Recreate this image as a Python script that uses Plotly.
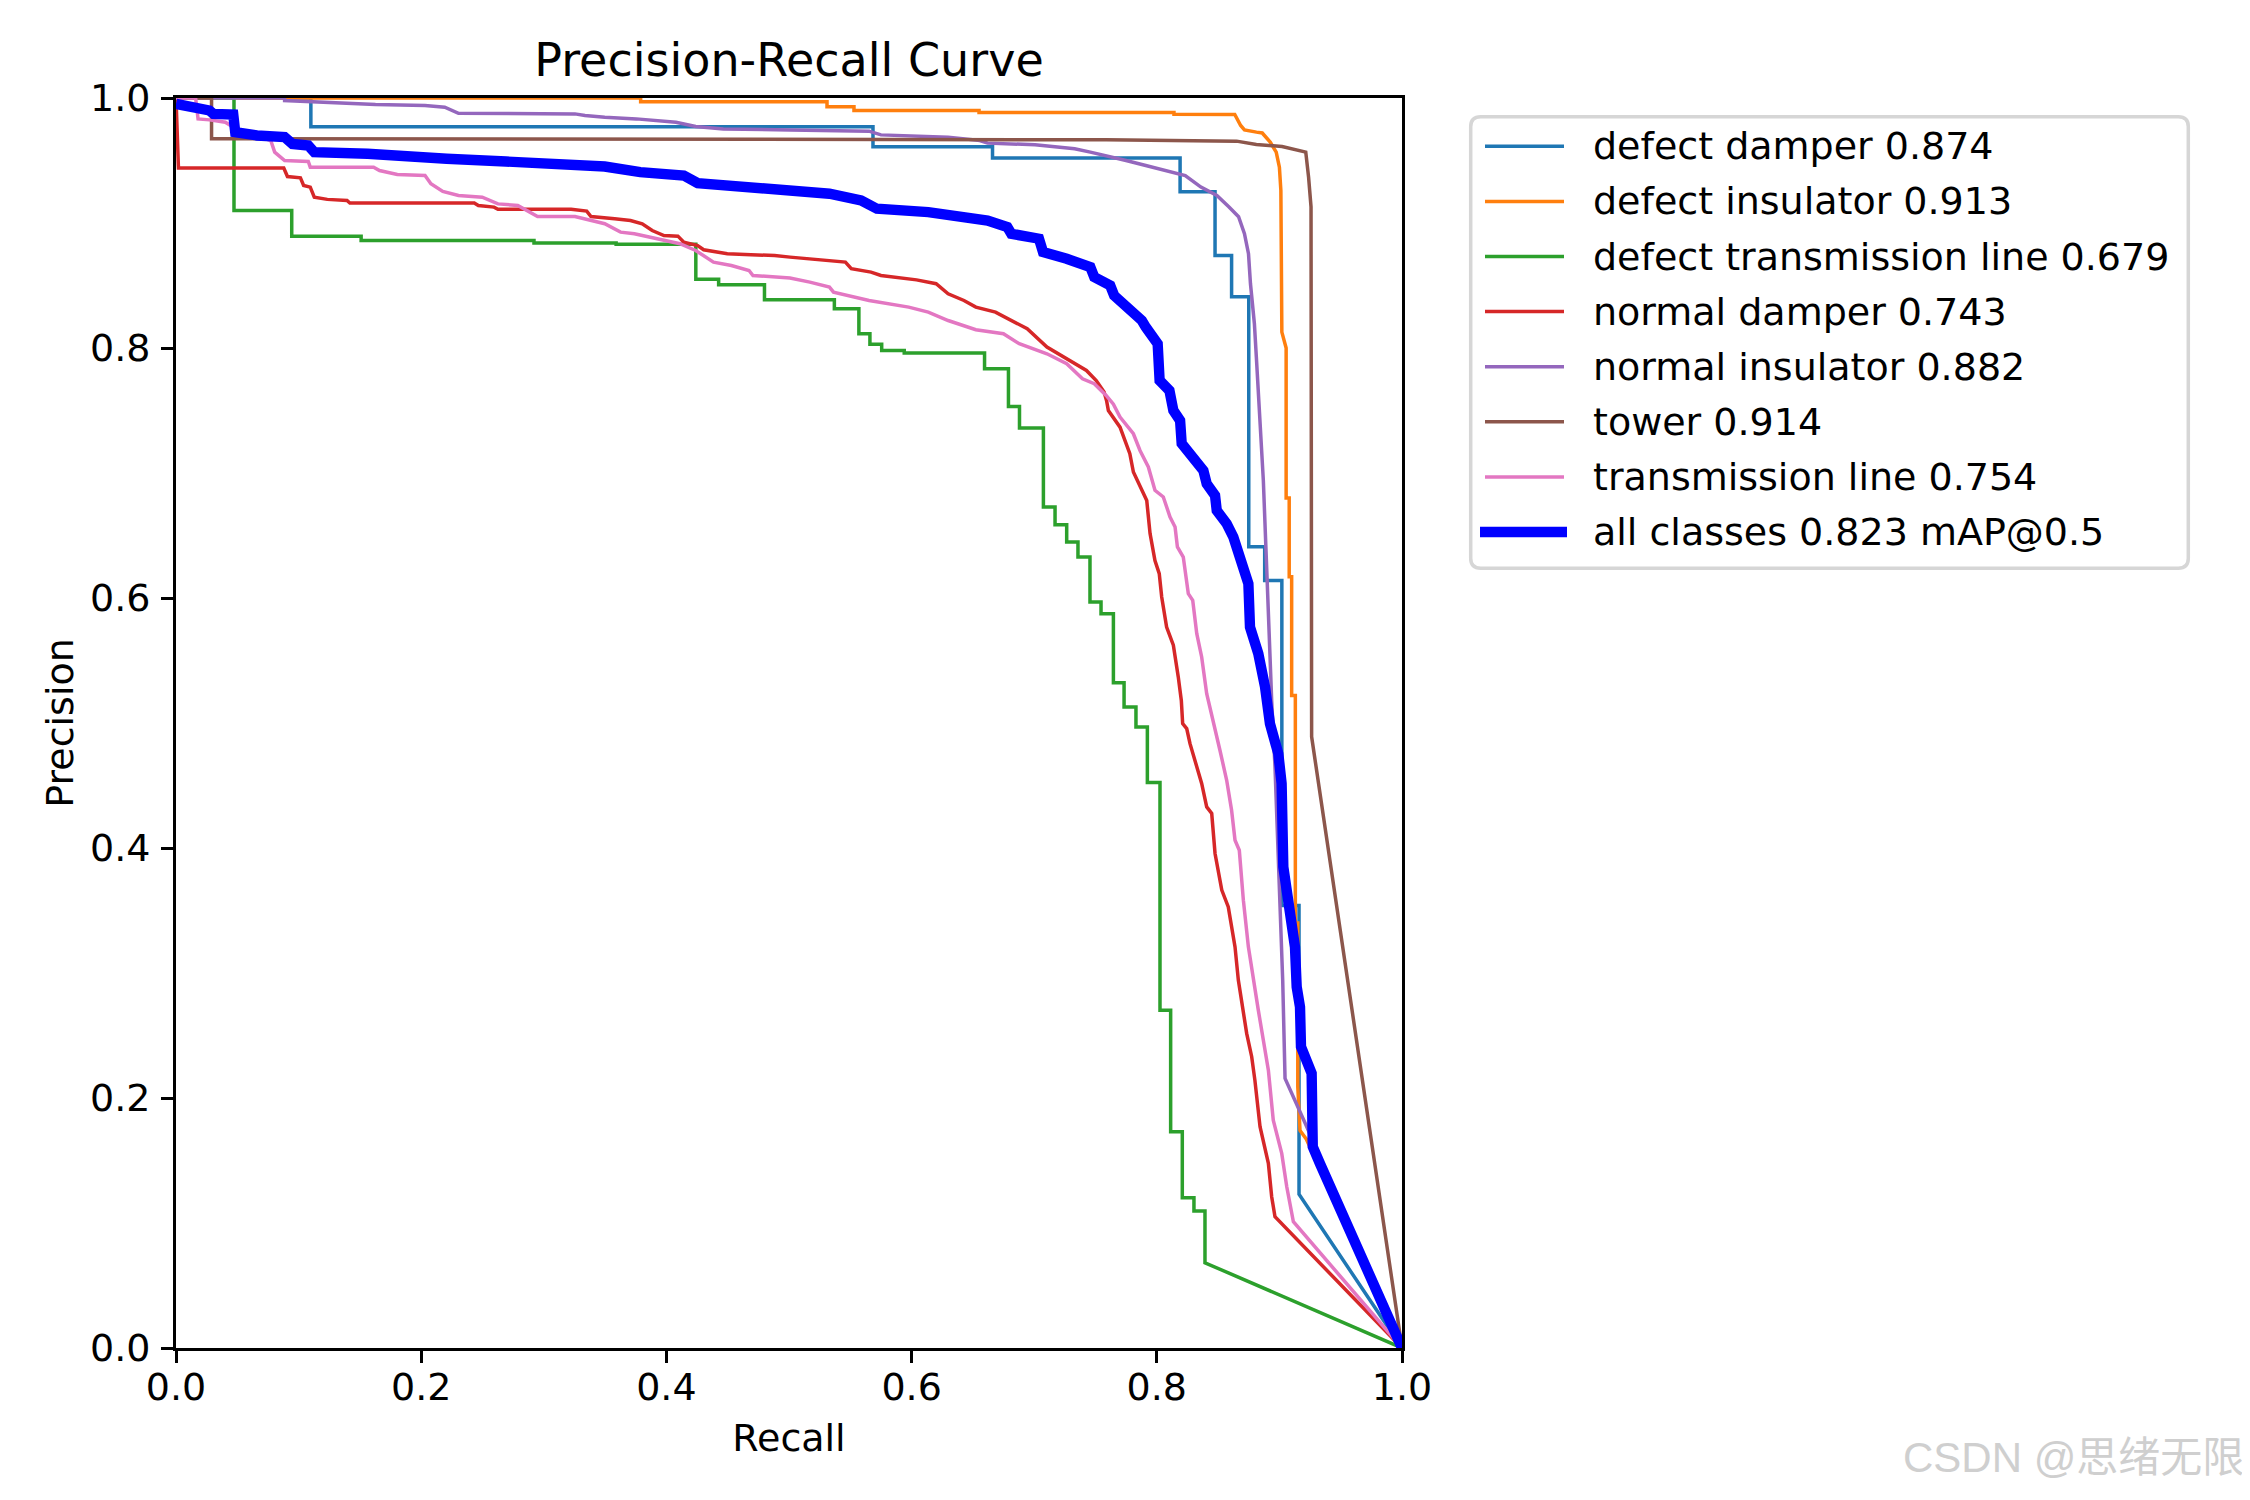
import plotly.graph_objects as go

# ---------------- data ----------------
TICK_VALUES = [0.0, 0.2, 0.4, 0.6, 0.8, 1.0]
TICK_LABELS = ["0.0", "0.2", "0.4", "0.6", "0.8", "1.0"]

CLASS_NAMES = ["defect damper", "defect insulator", "defect transmission line",
               "normal damper", "normal insulator", "tower", "transmission line"]
CLASS_AP = [0.874, 0.913, 0.679, 0.743, 0.882, 0.914, 0.754]
MAP50 = 0.823

DEFECT_DAMPER = [(0, 1.0), (0.110, 1.0), (0.110, 0.977), (0.5685, 0.977), (0.5685, 0.961),
                 (0.666, 0.961), (0.666, 0.952), (0.819, 0.952), (0.819, 0.925),
                 (0.8475, 0.925), (0.8475, 0.874), (0.861, 0.874), (0.861, 0.841),
                 (0.875, 0.841), (0.875, 0.641), (0.888, 0.641), (0.888, 0.614),
                 (0.902, 0.614), (0.902, 0.354), (0.916, 0.354), (0.916, 0.123), (1.0, 0.0)]

DEFECT_INSULATOR = [(0, 1.0), (0.379, 1.0), (0.379, 0.997), (0.531, 0.997), (0.531, 0.993),
                    (0.553, 0.993), (0.553, 0.990), (0.655, 0.990), (0.655, 0.9885),
                    (0.814, 0.9885), (0.814, 0.987), (0.8636, 0.9868), (0.8684, 0.978),
                    (0.8715, 0.9745), (0.8813, 0.9727), (0.886, 0.972), (0.8925, 0.9647),
                    (0.8974, 0.9567), (0.900, 0.9447), (0.9012, 0.926), (0.902, 0.8127),
                    (0.9055, 0.80), (0.9055, 0.68), (0.908, 0.68), (0.908, 0.617),
                    (0.910, 0.617), (0.910, 0.522), (0.913, 0.522), (0.913, 0.34),
                    (0.915, 0.34), (0.915, 0.209), (0.9168, 0.174), (0.922, 0.167), (1.0, 0.0)]

DEFECT_TRANSMISSION_LINE = [(0, 1.0), (0.0473, 1.0), (0.0473, 0.910), (0.0944, 0.910),
                            (0.0944, 0.8895), (0.151, 0.8895), (0.151, 0.886), (0.292, 0.886),
                            (0.292, 0.884), (0.359, 0.884), (0.359, 0.883), (0.424, 0.883),
                            (0.424, 0.855), (0.4426, 0.855), (0.4426, 0.8506), (0.480, 0.8506),
                            (0.480, 0.8386), (0.537, 0.8386), (0.537, 0.8314), (0.557, 0.8314),
                            (0.557, 0.8114), (0.566, 0.8114), (0.566, 0.803), (0.5756, 0.803),
                            (0.5756, 0.798), (0.594, 0.798), (0.594, 0.796), (0.6595, 0.796),
                            (0.6595, 0.7834), (0.679, 0.7834), (0.679, 0.7533), (0.688, 0.7533),
                            (0.688, 0.736), (0.7075, 0.736), (0.7075, 0.6728), (0.717, 0.6728),
                            (0.717, 0.6586), (0.7265, 0.6586), (0.7265, 0.6448), (0.7357, 0.6448),
                            (0.7357, 0.6328), (0.7455, 0.6328), (0.7455, 0.5968), (0.7545, 0.5968),
                            (0.7545, 0.5875), (0.7646, 0.5875), (0.7646, 0.5323), (0.7733, 0.5323),
                            (0.7733, 0.5128), (0.783, 0.5128), (0.783, 0.4969), (0.7923, 0.4969),
                            (0.7923, 0.4524), (0.8026, 0.4524), (0.8026, 0.2703), (0.8113, 0.2703),
                            (0.8113, 0.173), (0.8208, 0.173), (0.8208, 0.1202), (0.8303, 0.1202),
                            (0.8303, 0.1096), (0.8393, 0.1096), (0.8393, 0.0682), (1.0, 0.0)]

NORMAL_DAMPER = [(0, 1.0), (0.002, 0.944), (0.0879, 0.944), (0.0909, 0.9372), (0.1015, 0.9361),
                 (0.1041, 0.930), (0.1095, 0.9287), (0.1128, 0.9207), (0.1234, 0.9189),
                 (0.1395, 0.918), (0.1418, 0.916), (0.2433, 0.916), (0.2466, 0.914),
                 (0.2594, 0.9127), (0.2626, 0.911), (0.3223, 0.911), (0.335, 0.9095),
                 (0.3385, 0.9052), (0.3578, 0.9034), (0.3707, 0.902), (0.3803, 0.8994),
                 (0.3884, 0.894), (0.398, 0.890), (0.4094, 0.8895), (0.4142, 0.8847),
                 (0.4255, 0.882), (0.4304, 0.8786), (0.44, 0.8772), (0.4497, 0.8754),
                 (0.469, 0.8746), (0.4883, 0.874), (0.5008, 0.8727), (0.533, 0.870),
                 (0.546, 0.8687), (0.5508, 0.8634), (0.5669, 0.8607), (0.575, 0.858),
                 (0.604, 0.8545), (0.620, 0.8514), (0.6298, 0.8434), (0.6427, 0.838),
                 (0.6524, 0.8327), (0.6684, 0.8287), (0.6813, 0.822), (0.6943, 0.8154),
                 (0.7104, 0.8007), (0.7265, 0.7914), (0.7426, 0.782), (0.7506, 0.774),
                 (0.757, 0.7648), (0.759, 0.758), (0.7605, 0.750), (0.770, 0.7367),
                 (0.778, 0.7155), (0.7809, 0.7008), (0.7863, 0.6888), (0.7918, 0.678),
                 (0.7945, 0.6515), (0.7985, 0.630), (0.802, 0.6195), (0.804, 0.6008),
                 (0.808, 0.5768), (0.8135, 0.5622), (0.8175, 0.5369), (0.820, 0.518),
                 (0.8211, 0.4995), (0.8244, 0.4955), (0.8271, 0.4835), (0.8312, 0.4702),
                 (0.8366, 0.4516), (0.8407, 0.4329), (0.8448, 0.4276), (0.8475, 0.3956),
                 (0.8515, 0.3716), (0.853, 0.3663), (0.8583, 0.3529), (0.861, 0.3369),
                 (0.8638, 0.3209), (0.8665, 0.2943), (0.8706, 0.2703), (0.8733, 0.2517),
                 (0.8774, 0.2330), (0.880, 0.2143), (0.8842, 0.177), (0.8883, 0.161),
                 (0.891, 0.1477), (0.8937, 0.121), (0.8964, 0.105), (1.0, 0.0)]

NORMAL_INSULATOR = [(0, 1.0), (0.0886, 1.0), (0.0886, 0.998), (0.1434, 0.9958), (0.1627, 0.9948),
                    (0.2031, 0.994), (0.2192, 0.9926), (0.2304, 0.9878), (0.3254, 0.9873),
                    (0.3336, 0.986), (0.3497, 0.9846), (0.3755, 0.9833), (0.4078, 0.9806),
                    (0.4239, 0.9772), (0.4465, 0.9753), (0.5008, 0.9745), (0.5653, 0.9735),
                    (0.575, 0.9705), (0.6298, 0.9687), (0.6556, 0.966), (0.662, 0.9639),
                    (0.7007, 0.9626), (0.733, 0.9594), (0.7458, 0.9567), (0.7587, 0.954),
                    (0.7749, 0.950), (0.791, 0.946), (0.8071, 0.942), (0.8232, 0.938),
                    (0.836, 0.9287), (0.849, 0.922), (0.8587, 0.913), (0.8667, 0.905),
                    (0.8715, 0.8914), (0.8748, 0.8754), (0.8764, 0.8514), (0.8796, 0.8194),
                    (0.8812, 0.7927), (0.8829, 0.766), (0.8842, 0.7367), (0.8869, 0.694),
                    (0.8896, 0.6247), (0.8918, 0.566), (0.8937, 0.518), (0.8964, 0.4649),
                    (0.8991, 0.3982), (0.9005, 0.358), (0.9027, 0.294), (0.9046, 0.2157),
                    (0.9223, 0.177), (1.0, 0.0)]

TOWER = [(0, 1.0), (0.029, 1.0), (0.029, 0.9674), (0.7587, 0.9666), (0.8651, 0.9655),
         (0.8812, 0.9628), (0.9022, 0.9612), (0.9119, 0.9586), (0.9215, 0.9567),
         (0.9238, 0.9367), (0.9258, 0.913), (0.9263, 0.489), (1.0, 0.0)]

TRANSMISSION_LINE = [(0, 1.0), (0.016, 1.0), (0.018, 0.9833), (0.0273, 0.9825), (0.0402, 0.9806),
                     (0.0467, 0.9766), (0.06, 0.972), (0.0773, 0.966), (0.0805, 0.9567),
                     (0.0886, 0.950), (0.1079, 0.9492), (0.1095, 0.9447), (0.1612, 0.9447),
                     (0.166, 0.942), (0.1805, 0.9388), (0.2031, 0.938), (0.2079, 0.9314),
                     (0.2176, 0.9252), (0.2304, 0.922), (0.2498, 0.9207), (0.2626, 0.9153),
                     (0.2788, 0.914), (0.2949, 0.9052), (0.3254, 0.9052), (0.3497, 0.8994),
                     (0.3626, 0.8927), (0.3739, 0.8914), (0.3917, 0.8874), (0.411, 0.8834),
                     (0.4239, 0.878), (0.4384, 0.8687), (0.453, 0.866), (0.4674, 0.862),
                     (0.4706, 0.858), (0.5008, 0.856), (0.517, 0.8527), (0.533, 0.8487),
                     (0.5363, 0.8447), (0.5653, 0.838), (0.5976, 0.8327), (0.6136, 0.8287),
                     (0.6298, 0.822), (0.6524, 0.8146), (0.6749, 0.8114), (0.6878, 0.8034),
                     (0.7104, 0.7954), (0.7265, 0.7874), (0.7394, 0.7754), (0.749, 0.7714),
                     (0.7587, 0.762), (0.7646, 0.755), (0.770, 0.7447), (0.7809, 0.7314),
                     (0.7863, 0.718), (0.7931, 0.7048), (0.7985, 0.6862), (0.8053, 0.6808),
                     (0.8108, 0.6648), (0.8149, 0.6568), (0.8168, 0.6408), (0.8216, 0.6328),
                     (0.8257, 0.6035), (0.8293, 0.5982), (0.8326, 0.5715), (0.8366, 0.5528),
                     (0.8407, 0.5235), (0.8461, 0.5022), (0.8515, 0.4782), (0.857, 0.4542),
                     (0.861, 0.4302), (0.8638, 0.4062), (0.8673, 0.3982), (0.8706, 0.3583),
                     (0.8747, 0.3209), (0.8828, 0.2703), (0.891, 0.2223), (0.895, 0.1823),
                     (0.9019, 0.1557), (0.906, 0.129), (0.9114, 0.101), (1.0, 0.0)]

ALL_CLASSES = [(0, 0.9953), (0.0144, 0.9926), (0.0273, 0.990), (0.0306, 0.9873), (0.0467, 0.9868),
               (0.0483, 0.9727), (0.066, 0.970), (0.0886, 0.9687), (0.095, 0.9633),
               (0.1079, 0.962), (0.1128, 0.9567), (0.1563, 0.9554), (0.2015, 0.954),
               (0.2208, 0.9514), (0.2692, 0.9492), (0.2949, 0.9474), (0.3271, 0.9468),
               (0.3497, 0.9452), (0.3787, 0.9407), (0.4142, 0.938), (0.4255, 0.9319),
               (0.4465, 0.930), (0.4787, 0.9274), (0.5008, 0.926), (0.533, 0.9234),
               (0.5588, 0.918), (0.5717, 0.9114), (0.6136, 0.9087), (0.6459, 0.9047),
               (0.662, 0.902), (0.6781, 0.8967), (0.6813, 0.8914), (0.7039, 0.8874),
               (0.7072, 0.8767), (0.7265, 0.8714), (0.7458, 0.8647), (0.749, 0.8567),
               (0.762, 0.850), (0.7652, 0.842), (0.7749, 0.834), (0.7878, 0.822),
               (0.791, 0.8167), (0.8007, 0.8034), (0.8023, 0.774), (0.8103, 0.766),
               (0.8135, 0.750), (0.819, 0.742), (0.8203, 0.7235), (0.8271, 0.7155),
               (0.838, 0.702), (0.8407, 0.6914), (0.8475, 0.682), (0.8489, 0.670),
               (0.857, 0.6595), (0.8624, 0.6488), (0.8679, 0.6328), (0.8747, 0.6115),
               (0.876, 0.5768), (0.8828, 0.5555), (0.8883, 0.5288), (0.8923, 0.4995),
               (0.8991, 0.4755), (0.9018, 0.4516), (0.9032, 0.3849), (0.9065, 0.3583),
               (0.9073, 0.3476), (0.9127, 0.3209), (0.9141, 0.2889), (0.9168, 0.2729),
               (0.9176, 0.241), (0.9223, 0.2303), (0.9263, 0.2197), (0.9272, 0.161),
               (0.933, 0.1477), (1.0, 0.0)]

CLASS_CURVES = [DEFECT_DAMPER, DEFECT_INSULATOR, DEFECT_TRANSMISSION_LINE, NORMAL_DAMPER,
                NORMAL_INSULATOR, TOWER, TRANSMISSION_LINE]
CLASS_COLORS = ["#1f77b4", "#ff7f0e", "#2ca02c", "#d62728", "#9467bd", "#8c564b", "#e377c2"]
ALL_COLOR = "#0000ff"

# ---------------- figure ----------------
# the page body has an 8 px margin, so the figure is 8 px smaller than the window
W, H = 2242, 1492
ML, MR, MT, MB = 168, 848, 90, 152
PW, PH = W - ML - MR, H - MT - MB
FONT = "DejaVu Sans"
FS = 38
THIN, THICK = 3.5, 10.4


def px(X):   # figure pixel x -> paper x
    return (X - ML) / PW


def py(Y):   # figure pixel y (from top) -> paper y
    return (H - MB - Y) / PH


fig = go.Figure()
labels, colors, widths = [], [], []
for name, ap, curve, col in zip(CLASS_NAMES, CLASS_AP, CLASS_CURVES, CLASS_COLORS):
    lab = f"{name} {ap:.3f}"
    fig.add_trace(go.Scatter(
        x=[p[0] for p in curve], y=[p[1] for p in curve], mode="lines",
        name=lab, line=dict(color=col, width=THIN),
    ))
    labels.append(lab); colors.append(col); widths.append(THIN)
lab_all = f"all classes {MAP50:.3f} mAP@0.5"
fig.add_trace(go.Scatter(
    x=[p[0] for p in ALL_CLASSES], y=[p[1] for p in ALL_CLASSES], mode="lines",
    name=lab_all, line=dict(color=ALL_COLOR, width=THICK),
))
labels.append(lab_all); colors.append(ALL_COLOR); widths.append(THICK)

axis_common = dict(
    range=[0, 1], tickvals=TICK_VALUES, ticktext=TICK_LABELS,
    showgrid=False, zeroline=False, showline=True, mirror=True,
    linecolor="black", linewidth=2.8, ticks="outside", ticklen=12, tickwidth=2.8,
    tickcolor="black", tickfont=dict(family=FONT, size=FS, color="black"),
)

fig.update_layout(
    width=W, height=H,
    margin=dict(l=ML, r=MR, t=MT, b=MB, autoexpand=False),
    paper_bgcolor="white", plot_bgcolor="white",
    font=dict(family=FONT, size=FS, color="black"),
    title=dict(text="Precision-Recall Curve", x=0.5, xref="paper", xanchor="center",
               y=1 - 52 / H, yref="container", yanchor="middle",
               font=dict(family=FONT, size=46, color="black")),
    xaxis=dict(title=dict(text="Recall", font=dict(family=FONT, size=FS), standoff=17),
               ticklabelstandoff=-9, **axis_common),
    yaxis=dict(title=dict(text="Precision", font=dict(family=FONT, size=FS), standoff=5),
               ticklabelstandoff=3, **axis_common),
    showlegend=False,
)

# ---- legend box (matplotlib style, placed to the right of the axes) ----
BX0, BX1, BY0, BY1, R = 1462.7, 2180.3, 108.7, 560.3, 10
rx, ry = R / PW, R / PH
x0, x1, y0, y1 = px(BX0), px(BX1), py(BY1), py(BY0)
box_path = (f"M{x0 + rx},{y0} L{x1 - rx},{y0} Q{x1},{y0} {x1},{y0 + ry} "
            f"L{x1},{y1 - ry} Q{x1},{y1} {x1 - rx},{y1} L{x0 + rx},{y1} "
            f"Q{x0},{y1} {x0},{y1 - ry} L{x0},{y0 + ry} Q{x0},{y0} {x0 + rx},{y0} Z")
fig.add_shape(type="path", path=box_path, xref="paper", yref="paper",
              fillcolor="rgba(255,255,255,0.8)", line=dict(color="#d6d6d6", width=3.5),
              layer="above")

ROW0, PITCH = 138.3, 55.1
for k, (lab, col, lw) in enumerate(zip(labels, colors, widths)):
    yc = py(ROW0 + PITCH * k)
    xa, xb = (1477, 1556) if lw == THIN else (1472, 1559)
    fig.add_shape(type="line", xref="paper", yref="paper", x0=px(xa), x1=px(xb),
                  y0=yc, y1=yc, line=dict(color=col, width=lw), layer="above")
    fig.add_annotation(text=lab, xref="paper", yref="paper", x=px(1583), y=yc,
                       xanchor="left", yanchor="middle", showarrow=False,
                       font=dict(family=FONT, size=FS, color="black"))

fig.add_annotation(
    text="CSDN @思绪无限", xref="paper", yref="paper",
    x=px(2238), y=py(1449),
    xanchor="right", yanchor="middle", showarrow=False,
    font=dict(family="Liberation Sans, Noto Sans CJK SC", size=42, color="#cfcfcf"),
)

fig.write_html("out.html")
